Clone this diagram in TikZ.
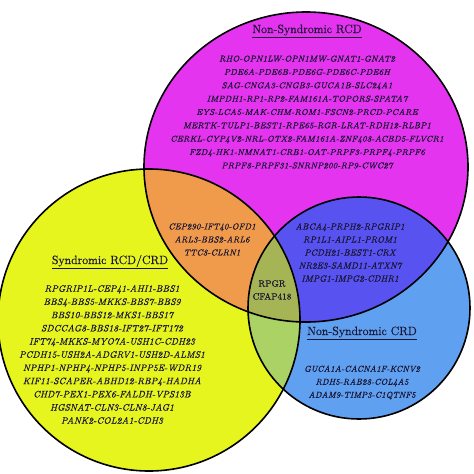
\documentclass[tikz,border=0pt]{standalone}
\usepackage{fontspec}
\setmainfont{Latin Modern Roman}[FakeBold=0.5]
\begin{document}
\begin{tikzpicture}[x=1pt,y=-1pt]
\definecolor{cmag}{RGB}{228,52,240}
\definecolor{cyel}{RGB}{230,245,30}
\definecolor{cblu}{RGB}{95,160,240}
\definecolor{corg}{RGB}{240,155,75}
\definecolor{cpur}{RGB}{88,82,240}
\definecolor{cgrn}{RGB}{165,180,85}
\definecolor{cyb}{RGB}{170,210,100}
\definecolor{ctxt}{RGB}{25,20,50}
\tikzset{
  genes/.style={align=center,text=ctxt,font=\fontsize{9.3}{13.2}\selectfont\itshape,inner sep=0pt},
  ttl/.style={anchor=base,text=ctxt,font=\fontsize{12}{14}\selectfont,inner sep=0pt},
  ring/.style={draw=black,line width=1.6pt}
}
\useasboundingbox (0,0) rectangle (474,474);
\fill[white] (0,0) rectangle (474,474);
% circles
\coordinate (cm) at (306,167);
\coordinate (cy) at (149,320);
\coordinate (cb) at (359,308);
\def\magpath{(cm) ellipse[x radius=162,y radius=155]}
\def\yelpath{(cy) circle[radius=151]}
\def\blupath{(cb) circle[radius=111]}
\fill[cmag] \magpath;
\fill[cyel] \yelpath;
\fill[cblu] \blupath;
\begin{scope}
  \clip \magpath;
  \fill[corg] \yelpath;
  \fill[cpur] \blupath;
  \clip \yelpath;
  \fill[cgrn] \blupath;
\end{scope}
\begin{scope}
  \clip \yelpath;
  \clip \blupath;
  \fill[even odd rule,cyb] (0,0) rectangle (474,474) \magpath;
\end{scope}
\draw[ring] \magpath;
\draw[ring] \yelpath;
\draw[ring] \blupath;
% titles
\node[ttl] (tm) at (307,33) {\underline{Non-Syndromic RCD}};
\node[ttl] (ty) at (110,264) {\underline{Syndromic RCD/CRD}};
\node[ttl] (tb) at (362,335) {\underline{Non-Syndromic CRD}};
% gene lists
\node[genes,font=\fontsize{8.5}{13.35}\selectfont\itshape] (gm) at (307,112) {RHO-OPN1LW-OPN1MW-GNAT1-GNAT2\\PDE6A-PDE6B-PDE6G-PDE6C-PDE6H\\SAG-CNGA3-CNGB3-GUCA1B-SLC24A1\\IMPDH1-RP1-RP2-FAM161A-TOPORS-SPATA7\\EYS-LCA5-MAK-CHM-ROM1-FSCN2-PRCD-PCARE\\MERTK-TULP1-BEST1-RPE65-RGR-LRAT-RDH12-RLBP1\\CERKL-CYP4V2-NRL-OTX2-FAM161A-ZNF408-ACBD5-FLVCR1\\FZD4-HK1-NMNAT1-CRB1-OAT-PRPF3-PRPF4-PRPF6\\PRPF8-PRPF31-SNRNP200-RP9-CWC27};
\node[genes] (gy) at (112,354.5) {RPGRIP1L-CEP41-AHI1-BBS1\\BBS4-BBS5-MKKS-BBS7-BBS9\\BBS10-BBS12-MKS1-BBS17\\SDCCAG8-BBS18-IFT27-IFT172\\IFT74-MKKS-MYO7A-USH1C-CDH23\\PCDH15-USH2A-ADGRV1-USH2D-ALMS1\\NPHP1-NPHP4-NPHP5-INPP5E-WDR19\\KIF11-SCAPER-ABHD12-RBP4-HADHA\\CHD7-PEX1-PEX6-FALDH-VPS13B\\HGSNAT-CLN3-CLN8-JAG1\\PANK2-COL2A1-CDH3};
\node[genes,font=\fontsize{8.7}{13}\selectfont\itshape] (go) at (212,239.5) {CEP290-IFT40-OFD1\\ARL3-BBS2-ARL6\\TTC8-CLRN1};
\node[genes,font=\fontsize{8.9}{13}\selectfont\itshape] (gp) at (350,252.5) {ABCA4-PRPH2-RPGRIP1\\RP1L1-AIPL1-PROM1\\PCDH21-BEST1-CRX\\NR2E3-SAMD11-ATXN7\\IMPG1-IMPG2-CDHR1};
\node[genes,font=\fontsize{9}{13}\selectfont] (gg) at (272,290) {RPGR\\CFAP418};
\node[genes,font=\fontsize{8.6}{13}\selectfont\itshape] (gb) at (362,382.5) {GUCA1A-CACNA1F-KCNV2\\RDH5-RAB28-COL4A5\\ADAM9-TIMP3-C1QTNF5};
\end{tikzpicture}
\end{document}
